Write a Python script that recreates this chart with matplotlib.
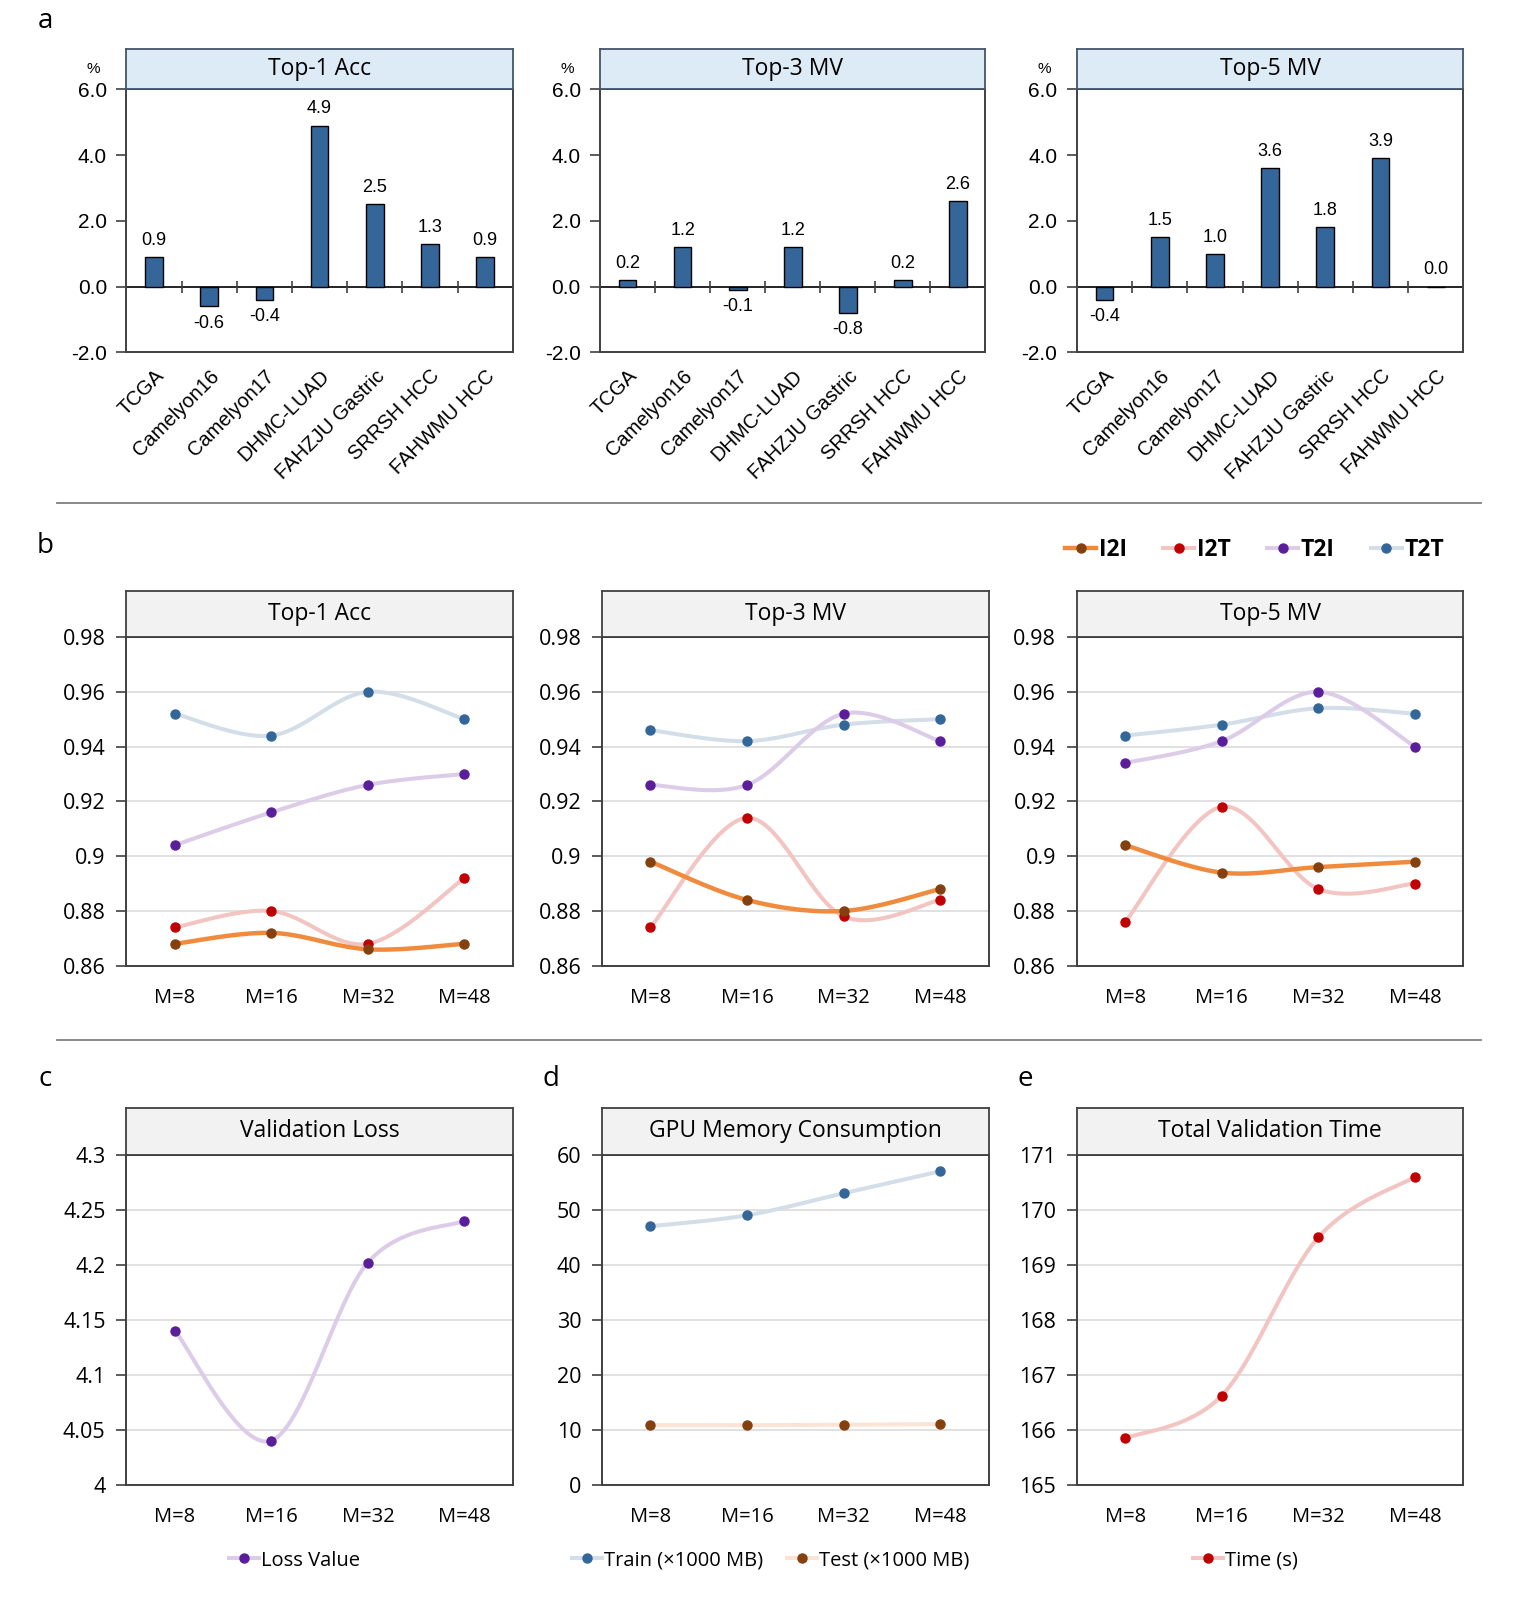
import numpy as np
import matplotlib.pyplot as plt
from matplotlib.lines import Line2D

plt.rcParams['font.family'] = ['Open Sans', 'DejaVu Sans']

# layout grid in reference pixels (scaled view)
W, H = 1486, 1570

# ---- data ----
datasets = ["TCGA", "Camelyon16", "Camelyon17", "DHMC-LUAD",
            "FAHZJU Gastric", "SRRSH HCC", "FAHWMU HCC"]
gain_top1 = [0.9, -0.6, -0.4, 4.9, 2.5, 1.3, 0.9]
gain_top3 = [0.2, 1.2, -0.1, 1.2, -0.8, 0.2, 2.6]
gain_top5 = [-0.4, 1.5, 1.0, 3.6, 1.8, 3.9, 0.0]

m_labels = ["M=8", "M=16", "M=32", "M=48"]

i2i_top1 = [0.868, 0.872, 0.866, 0.868]
i2t_top1 = [0.874, 0.880, 0.868, 0.892]
t2i_top1 = [0.904, 0.916, 0.926, 0.930]
t2t_top1 = [0.952, 0.944, 0.960, 0.950]

i2i_top3 = [0.898, 0.884, 0.880, 0.888]
i2t_top3 = [0.874, 0.914, 0.878, 0.884]
t2i_top3 = [0.926, 0.926, 0.952, 0.942]
t2t_top3 = [0.946, 0.942, 0.948, 0.950]

i2i_top5 = [0.904, 0.894, 0.896, 0.898]
i2t_top5 = [0.876, 0.918, 0.888, 0.890]
t2i_top5 = [0.934, 0.942, 0.960, 0.940]
t2t_top5 = [0.944, 0.948, 0.954, 0.952]

loss_value = [4.14, 4.04, 4.202, 4.24]
train_mem = [47, 49, 53, 57]
test_mem = [10.8, 10.8, 10.9, 11.0]
val_time = [165.84, 166.62, 169.5, 170.6]

# series styles: (line colour, marker colour, line width)
styles = {
    "I2I": ("#F08B3E", "#84400F", 3.2),
    "I2T": ("#F2C4C2", "#C00000", 2.9),
    "T2I": ("#DCCCE8", "#5A1E9A", 2.9),
    "T2T": ("#D3DEE8", "#336699", 2.9),
}

fig = plt.figure(figsize=(15.27, 16.13), dpi=100)


def smooth(y, n=30):
    # excel-like smoothed line (catmull-rom bezier through the points)
    x = np.arange(len(y), dtype=float)
    y = np.asarray(y, dtype=float)
    px = np.concatenate([[x[0]], x, [x[-1]]])
    py = np.concatenate([[y[0]], y, [y[-1]]])
    xs, ys = [], []
    t = np.linspace(0, 1, n)
    for i in range(len(y) - 1):
        p0 = np.array([px[i + 1], py[i + 1]])
        p3 = np.array([px[i + 2], py[i + 2]])
        p1 = p0 + (p3 - np.array([px[i], py[i]])) / 6
        p2 = p3 - (np.array([px[i + 3], py[i + 3]]) - p0) / 6
        b = ((1 - t) ** 3)[:, None] * p0 + (3 * (1 - t) ** 2 * t)[:, None] * p1 \
            + (3 * (1 - t) * t ** 2)[:, None] * p2 + (t ** 3)[:, None] * p3
        xs.append(b[:, 0])
        ys.append(b[:, 1])
    return np.concatenate(xs), np.concatenate(ys)


def panel(x0, x1, y_head, y_top, y_bot, title, head_fc, head_ec, tsize):
    ax = fig.add_axes([x0 / W, 1 - y_bot / H, (x1 - x0) / W, (y_bot - y_top) / H])
    hd = fig.add_axes([x0 / W, 1 - y_top / H, (x1 - x0) / W, (y_top - y_head) / H])
    hd.set_facecolor(head_fc)
    hd.set_xticks([])
    hd.set_yticks([])
    for s in hd.spines.values():
        s.set_color(head_ec)
        s.set_linewidth(1.3)
    hd.text(0.5, 0.5, title, ha='center', va='center', fontsize=tsize,
            transform=hd.transAxes)
    for s in ax.spines.values():
        s.set_color("#404040")
        s.set_linewidth(1.4)
    ax.spines['top'].set_color("#262626")
    return ax


def fmt(v):
    return f"{round(v, 3):g}"


def marker_handle(lc, mc, lw):
    return Line2D([], [], color=lc, lw=lw, marker='o', markerfacecolor=mc,
                  markeredgecolor=mc, ms=6.5)


# ---- panel a: bar charts ----
bar_titles = ["Top-1 Acc", "Top-3 MV", "Top-5 MV"]
bar_gains = [gain_top1, gain_top3, gain_top5]
bar_x = [(123, 499), (584, 959), (1048, 1424)]
for (x0, x1), title, vals in zip(bar_x, bar_titles, bar_gains):
    ax = panel(x0, x1, 48, 87, 343, title, "#DDEBF7", "#44546A", 16.5)
    pos = np.arange(len(datasets))
    ax.bar(pos, vals, width=0.32, color="#35669A", edgecolor="black", linewidth=1.0, zorder=3)
    ax.axhline(0, color="black", lw=1.2, zorder=2)
    ax.vlines(pos[:-1] + 0.5, -0.18, 0.18, color="#404040", lw=1.2, zorder=2)
    ax.set_xlim(-0.5, len(datasets) - 0.5)
    ax.set_ylim(-2, 6)
    ax.set_yticks([-2, 0, 2, 4, 6])
    ax.set_yticklabels([f"{v:.1f}" for v in [-2, 0, 2, 4, 6]],
                       fontsize=15, family=['Liberation Sans'])
    ax.tick_params(axis='y', length=7, width=1.2, color="#404040", pad=7)
    ax.set_xticks(pos)
    ax.set_xticklabels(datasets, rotation=45, ha='right', rotation_mode='anchor',
                       fontsize=14.5, family=['Liberation Sans'])
    ax.tick_params(axis='x', length=0, pad=10)
    for p, v in zip(pos, vals):
        if v >= 0:
            ax.text(p, v + 0.25, f"{v:.1f}", ha='center', va='bottom', fontsize=13,
                    family=['Liberation Sans'])
        else:
            ax.text(p, v - 0.25, f"{v:.1f}", ha='center', va='top', fontsize=13,
                    family=['Liberation Sans'])
    fig.text((x0 - 32) / W, 1 - 67 / H, "%", ha='center', va='center', fontsize=11,
             family=['Liberation Sans'])

fig.add_artist(Line2D([55 / W, 1441 / W], [1 - 490 / H, 1 - 490 / H], color="#7F7F7F", lw=1.3))
fig.add_artist(Line2D([55 / W, 1441 / W], [1 - 1012 / H, 1 - 1012 / H], color="#7F7F7F", lw=1.3))


def line_axes(ax, series, yticks):
    xpos = np.arange(len(m_labels))
    for style, vals in series:
        lc, mc, lw = style
        sx, sy = smooth(vals)
        ax.plot(sx, sy, color=lc, lw=lw, solid_capstyle='round', zorder=3)
        ax.plot(xpos, vals, 'o', color=mc, ms=6.5, zorder=4)
    ax.set_xlim(-0.5, len(m_labels) - 0.5)
    ax.set_ylim(yticks[0], yticks[-1])
    ax.set_yticks(yticks)
    ax.set_yticklabels([fmt(v) for v in yticks], fontsize=15.5)
    ax.yaxis.grid(True, color="#D9D9D9", lw=1.1)
    ax.set_axisbelow(True)
    ax.tick_params(axis='y', length=7, width=1.2, color="#404040", pad=8)
    ax.set_xticks(xpos)
    ax.set_xticklabels(m_labels, fontsize=14.5)
    ax.tick_params(axis='x', length=0, pad=16)


# ---- panel b ----
b_titles = ["Top-1 Acc", "Top-3 MV", "Top-5 MV"]
b_series = [
    [("I2I", i2i_top1), ("I2T", i2t_top1), ("T2I", t2i_top1), ("T2T", t2t_top1)],
    [("I2I", i2i_top3), ("I2T", i2t_top3), ("T2I", t2i_top3), ("T2T", t2t_top3)],
    [("I2I", i2i_top5), ("I2T", i2t_top5), ("T2I", t2i_top5), ("T2T", t2t_top5)],
]
b_x = [(123, 499), (586, 962), (1048, 1424)]
acc_ticks = [0.86, 0.88, 0.90, 0.92, 0.94, 0.96, 0.98]
for (x0, x1), title, ser in zip(b_x, b_titles, b_series):
    ax = panel(x0, x1, 575, 620, 940, title, "#F2F2F2", "#404040", 16.5)
    # draw lines in reverse order so I2I sits on top
    line_axes(ax, [(styles[k], v) for k, v in ser[::-1]], acc_ticks)

handles = [marker_handle(*styles[k]) for k in ["I2I", "I2T", "T2I", "T2T"]]
fig.legend(handles, ["I2I", "I2T", "T2I", "T2T"], loc='center',
           bbox_to_anchor=(1221 / W, 1 - 535 / H), ncol=4, frameon=False,
           prop={'weight': 'bold', 'size': 16.5}, handlelength=1.35, handletextpad=0.1,
           columnspacing=1.6)

# ---- panels c, d, e ----
leg_x = 0.436
loss_style = ("#DCCCE8", "#5A1E9A", 2.9)
train_style = ("#D3DEE8", "#336699", 2.9)
test_style = ("#FBE3D5", "#84400F", 2.9)
time_style = ("#F2C4C2", "#C00000", 2.9)

ax = panel(123, 499, 1078, 1124, 1445, "Validation Loss", "#F2F2F2", "#404040", 16.5)
line_axes(ax, [(loss_style, loss_value)], [4.0, 4.05, 4.1, 4.15, 4.2, 4.25, 4.3])
ax.legend([marker_handle(*loss_style)], ["Loss Value"], loc='upper center',
          bbox_to_anchor=(leg_x, -0.145), frameon=False, fontsize=14.5,
          handlelength=1.5, handletextpad=0.1)

ax = panel(586, 962, 1078, 1124, 1445, "GPU Memory Consumption", "#F2F2F2", "#404040", 16.5)
line_axes(ax, [(train_style, train_mem), (test_style, test_mem)],
          [0, 10, 20, 30, 40, 50, 60])
ax.legend([marker_handle(*train_style), marker_handle(*test_style)],
          ["Train (×1000 MB)", "Test (×1000 MB)"], loc='upper center',
          bbox_to_anchor=(leg_x, -0.145), frameon=False, ncol=2, fontsize=14.5,
          handlelength=1.5, handletextpad=0.1, columnspacing=1.2)

ax = panel(1048, 1424, 1078, 1124, 1445, "Total Validation Time", "#F2F2F2", "#404040", 16.5)
line_axes(ax, [(time_style, val_time)], [165, 166, 167, 168, 169, 170, 171])
ax.legend([marker_handle(*time_style)], ["Time (s)"], loc='upper center',
          bbox_to_anchor=(leg_x, -0.145), frameon=False, fontsize=14.5,
          handlelength=1.5, handletextpad=0.1)

# panel letters
for lx, ly, s in [(44, 20, "a"), (44, 531, "b"), (44, 1050, "c"), (536, 1050, "d"), (998, 1050, "e")]:
    fig.text(lx / W, 1 - ly / H, s, ha='center', va='center', fontsize=20)

fig.savefig("out.png", dpi=100)
